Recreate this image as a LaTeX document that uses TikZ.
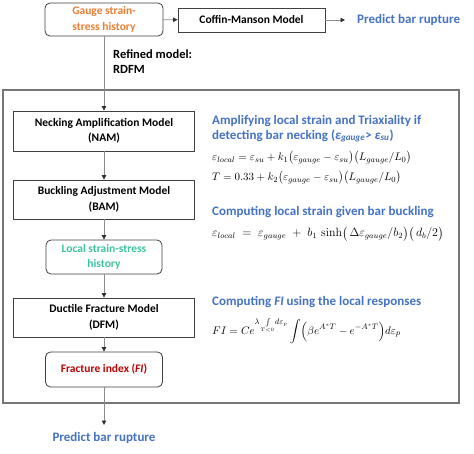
\documentclass[tikz,border=0pt]{standalone}
\usepackage[no-math]{fontspec}
\setmainfont{Carlito}
\usepackage{amsmath}
\usetikzlibrary{arrows.meta}
\definecolor{orng}{HTML}{ED7D31}
\definecolor{blu}{HTML}{4472C4}
\definecolor{tealc}{RGB}{60,196,160}
\definecolor{dred}{HTML}{C00000}
\definecolor{boxc}{HTML}{404040}
\definecolor{arrc}{HTML}{8C8C8C}
\definecolor{tipc}{HTML}{303030}
\definecolor{framec}{HTML}{767676}
\begin{document}
\begin{tikzpicture}[x=1pt,y=-1pt,
  box/.style={draw=boxc, line width=0.8pt, fill=white, inner sep=0pt, align=center, font=\bfseries\fontsize{11.5}{15.5}\selectfont},
  rbox/.style={box, rounded corners=5pt},
  arr/.style={draw=arrc, line width=0.8pt, -{Triangle[length=4.5pt,width=4.5pt,color=tipc]}},
  lbl/.style={font=\bfseries\fontsize{13}{15}\selectfont, text=blu, inner sep=0pt},
  eqn/.style={font=\fontsize{11}{14}\selectfont, inner sep=0pt, anchor=west},
]
\useasboundingbox (0,0) rectangle (474,454);
\node[draw=framec, line width=2.5pt, minimum width=456pt, minimum height=313pt, inner sep=0pt] (frame) at (231,246.5) {};
\node[rbox, minimum width=118pt, minimum height=33pt, text=orng] (gauge) at (104,19.5) {Gauge strain-\\stress history};
\node[box, minimum width=147pt, minimum height=24pt] (cm) at (251.5,20) {Coffin-Manson Model};
\coordinate (p1) at (345,20);
\node[lbl, anchor=west] (pred1) at (357,20) {Predict bar rupture};
\node[font=\bfseries\fontsize{12.5}{15}\selectfont, align=left, anchor=north west, inner sep=0pt] (refined) at (113,50) {Refined model:\\RDFM};
\node[box, minimum width=181pt, minimum height=40pt] (nam) at (104,131) {Necking Amplification Model\\(NAM)};
\node[box, minimum width=181pt, minimum height=39pt] (bam) at (104,199.5) {Buckling Adjustment Model\\(BAM)};
\node[rbox, minimum width=116pt, minimum height=34pt, text=tealc] (local) at (104,257) {Local strain-stress\\history};
\node[box, minimum width=181pt, minimum height=39pt] (dfm) at (104,317.5) {Ductile Fracture Model\\(DFM)};
\node[rbox, minimum width=117pt, minimum height=35pt, text=dred] (fi) at (104,369.5) {Fracture index (\textit{FI})};
\coordinate (p2) at (104,425);
\node[lbl] (pred2) at (104,438) {Predict bar rupture};
\draw[arr] (gauge) -- (cm);
\draw[arr] (cm) -- (p1);
\draw[arr] (gauge) -- (nam);
\draw[arr] (nam) -- (bam);
\draw[arr] (bam) -- (local);
\draw[arr] (local) -- (dfm);
\draw[arr] (dfm) -- (fi);
\draw[arr] (fi) -- (p2);
\node[lbl, anchor=west] (t1) at (212,121) {Amplifying local strain and Triaxiality if};
\node[lbl, anchor=west] (t2) at (212,136) {detecting bar necking (\textit{ε\textsubscript{gauge}}> \textit{ε\textsubscript{su}})};
\node[eqn] (e1) at (212,158) {$\varepsilon_{local} = \varepsilon_{su} + k_1\bigl(\varepsilon_{gauge} - \varepsilon_{su}\bigr)\bigl(L_{gauge}/L_0\bigr)$};
\node[eqn] (e2) at (212,178) {$T = 0.33 + k_2\bigl(\varepsilon_{gauge} - \varepsilon_{su}\bigr)\bigl(L_{gauge}/L_0\bigr)$};
\node[lbl, anchor=west] (t3) at (212,212) {Computing local strain given bar buckling};
\node[eqn, font=\fontsize{12}{14}\selectfont] (e3) at (212,234) {$\varepsilon_{local} \;=\; \varepsilon_{gauge} \;+\; b_1\,\sinh\bigl(\,\Delta\varepsilon_{gauge}/b_2\bigr)\bigl(\,d_b/2\bigr)$};
\node[lbl, anchor=west] (t4) at (212,302) {Computing \textit{FI} using the local responses};
\node[eqn] (e4) at (212,331) {$FI = Ce^{\lambda\int\limits_{T<0}\! d\varepsilon_p}\displaystyle\int\Bigl(\beta e^{A^*T} - e^{-A^*T}\Bigr)d\varepsilon_p$};
\end{tikzpicture}
\end{document}
